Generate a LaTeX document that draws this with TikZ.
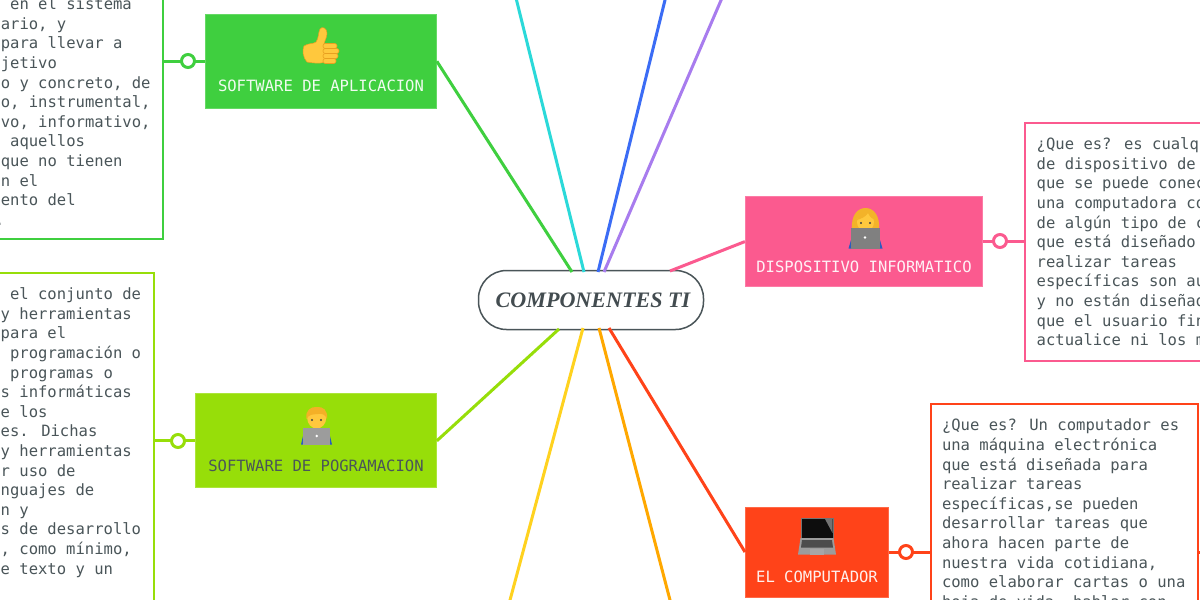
\documentclass[tikz,border=0pt]{standalone}
\usepackage{fontspec}
\newfontfamily\monof{DejaVu Sans Mono}
\newfontfamily\titlef{Liberation Serif}
\definecolor{cgreen}{HTML}{3FCF3F}
\definecolor{clime}{HTML}{97DE09}
\definecolor{cpink}{HTML}{FB5A8F}
\definecolor{cred}{HTML}{FF4319}
\definecolor{ccyan}{HTML}{2BD9D9}
\definecolor{cblue}{HTML}{3B6CF5}
\definecolor{cpurple}{HTML}{A87CEE}
\definecolor{corange}{HTML}{FFA800}
\definecolor{cyellow}{HTML}{FFD21F}
\definecolor{ctext}{HTML}{4A5559}
\definecolor{eskin}{HTML}{FFC83D}
\definecolor{eskind}{HTML}{E8A020}
\definecolor{ehair}{HTML}{F2B92E}
\definecolor{egrey}{HTML}{9C9C9C}
\definecolor{egreyd}{HTML}{808080}
\definecolor{eblue}{HTML}{2A5CC0}
\newcommand{\ind}{\hspace*{9.36pt}}
\newcommand{\mono}{\monof\fontsize{15.55}{19.6}\selectfont\spaceskip=9.36pt\relax}
\tikzset{
 conn/.style={line width=3pt},
 topic/.style={rectangle,inner sep=0pt,line width=1pt,anchor=center},
 notebox/.style={rectangle,draw=#1,line width=2pt,fill=white,inner xsep=12pt,inner ysep=15pt,align=flush left,font=\mono,text=ctext},
 ring/.style={circle,draw=#1,fill=white,line width=3pt,minimum size=13pt,inner sep=0pt},
 toplabel/.style={font=\mono,inner sep=0pt},
}
\begin{document}
\begin{tikzpicture}[x=1pt,y=-1pt]
\useasboundingbox (0,0) rectangle (1200,600);
\clip (0,0) rectangle (1200,600);
\fill[white] (0,0) rectangle (1200,600);
% free ends
\coordinate (ecyan) at (516,-2);
\coordinate (eblu) at (665.5,-2);
\coordinate (epurple) at (722,-2);
\coordinate (eorange) at (670.5,602);
\coordinate (eyellow) at (509.5,602);
\coordinate (cgr) at (572,272);
\coordinate (ccy) at (584,272);
\coordinate (cbl) at (598,272);
\coordinate (cpu) at (604,272);
\coordinate (cpi) at (670,271);
\coordinate (cre) at (609,328);
\coordinate (cor) at (599,328);
\coordinate (cye) at (583,328);
\coordinate (cli) at (559,329);
\coordinate (eout) at (1201,552);
% topic boxes
\node[topic,fill=cgreen,draw=cgreen!80!white,minimum width=231pt,minimum height=94pt] (apl) at (320.85,61.3) {};
\node[topic,fill=clime,draw=clime!80!white,minimum width=241pt,minimum height=94pt] (pro) at (315.85,440.8) {};
\node[topic,fill=cpink,draw=cpink!80!white,minimum width=237pt,minimum height=90pt] (dis) at (863.85,241.6) {};
\node[topic,fill=cred,draw=cred!80!white,minimum width=143pt,minimum height=90pt] (com) at (817,552) {};
% connector leaving the last note
\draw[conn,cred] (1195,552) -- (eout);
% notes
\node[notebox=cgreen,inner ysep=14pt,text width=150.5pt,anchor=south east] (n1) at (164.3,240.3) {\ind en el sistema\\ario, y\\para llevar a\\jetivo\\o y concreto, de\\o, instrumental,\\vo, informativo,\\\ind aquellos\\que no tienen\\n el\\ento del\\\hspace*{-6pt}.};
\node[notebox=clime,inner xsep=9pt,text width=144pt,anchor=north east] (n2) at (154.7,271.7) {\ind el conjunto de\\y herramientas\\para el\\\ind programación o\\\ind programas o\\s informáticas\\e los\\es. Dichas\\y herramientas\\r uso de\\nguajes de\\n y\\s de desarrollo\\, como mínimo,\\e texto y un\\~\\~\\~};
\node[notebox=cpink,inner ysep=13pt,text width=240pt,anchor=north west,minimum height=238.3pt] (n3) at (1023.7,121.7) {¿Que es? es cualqu\\de dispositivo de\\que se puede conec\\una computadora co\\de algún tipo de c\\que está diseñado\\realizar tareas\\específicas son au\\y no están diseñad\\que el usuario fin\\actualice ni los m};
\node[notebox=cred,inner xsep=11pt,text width=245pt,anchor=north west] (n4) at (930,403) {¿Que es? Un computador es\\una máquina electrónica\\que está diseñada para\\realizar tareas\\específicas,se pueden\\desarrollar tareas que\\ahora hacen parte de\\nuestra vida cotidiana,\\como elaborar cartas o una\\hoja de vida, hablar con\\~\\~};
% central
\node[rectangle,rounded corners=28pt,draw=ctext,line width=1.5pt,fill=white,minimum width=225pt,minimum height=59pt,inner sep=0pt,font=\titlef\bfseries\itshape\fontsize{22.1}{26}\selectfont,text=ctext!90!black] (cen) at (591,300) {\hspace*{4pt}COMPONENTES TI};
% connectors
\draw[conn,cgreen] (apl.east) -- (cgr);
\draw[conn,ccyan] (ecyan) -- (ccy);
\draw[conn,cblue] (eblu) -- (cbl);
\draw[conn,cpurple] (epurple) -- (cpu);
\draw[conn,cpink] (dis.west) -- (cpi);
\draw[conn,cred] (com.west) -- (cre);
\draw[conn,corange] (eorange) -- (cor);
\draw[conn,cyellow] (eyellow) -- (cye);
\draw[conn,clime] (pro.east) -- (cli);
% stubs
\draw[conn,cgreen] (apl.west) -- (n1.east |- apl.west);
\draw[conn,clime] (pro.west) -- (n2.east |- pro.west);
\draw[conn,cpink] (dis.east) -- (n3.west |- dis.east);
\draw[conn,cred] (com.east) -- (n4.west |- com.east);
\node[ring=cgreen] (r1) at (188,61) {};
\node[ring=clime] (r2) at (178,441) {};
\node[ring=cpink] (r3) at (1000,241) {};
\node[ring=cred] (r4) at (906,552) {};
% labels
\node[toplabel,text=white!92!cgreen] (l1) at (321,86) {SOFTWARE DE APLICACION};
\node[toplabel,text=ctext] (l2) at (316,466) {SOFTWARE DE POGRAMACION};
\node[toplabel,text=white!92!cpink] (l3) at (864,267) {DISPOSITIVO INFORMATICO};
\node[toplabel,text=white!92!cred] (l4) at (817,577) {EL COMPUTADOR};
% thumbs-up picture
\fill[eskin,draw=eskind,line width=.5pt,line join=round] (304,46) .. controls (308,43) and (314,44) .. (316,42)
  .. controls (319,38) and (318,33) .. (320,29) .. controls (322,26) and (327,28) .. (327,33)
  .. controls (327,37) and (325,40) .. (324,44) -- (326,62) .. controls (320,64) and (312,63) .. (307,62)
  .. controls (303,58) and (302,50) .. (304,46) -- cycle;
\foreach \yy/\xa in {43.5/337,48.5/339,53.5/338,58.5/336}{
  \fill[eskin,draw=eskind,line width=.6pt,rounded corners=2.2pt] (323,\yy) rectangle (\xa,\yy+5);
}
% man with laptop picture
\fill[eblue] (301,444.5) -- (303,436) -- (330,436) -- (332,444.5) -- cycle;
\fill[eskin] (316.7,418) ellipse (9.5pt and 10.5pt);
\fill[ehair!85!orange] (306.5,419) .. controls (305,410) and (311,406.5) .. (317,407) .. controls (323,406.5) and (328,410) .. (327,419)
  .. controls (325,414) and (322,413.5) .. (318,414) .. controls (313,414.5) and (309,414) .. (306.5,419) -- cycle;
\fill[black!75] (312,420) circle (1.1pt) (321,420) circle (1.1pt);
\fill[egrey] (303,427.7) rectangle (330,444.5);
\fill[white] (316.7,436) circle (1.4pt);
% woman with laptop picture
\fill[ehair!90!orange] (852,229) .. controls (851,216) and (857,208) .. (865.5,208) .. controls (874,208) and (880,216) .. (879,229) -- cycle;
\fill[eskin] (865.5,222) ellipse (8.5pt and 9.5pt);
\fill[ehair!90!orange] (857,220) .. controls (860,219) and (866,217) .. (868,213) .. controls (870,217) and (872,219) .. (875,220) -- (872,211) -- (860,211) -- cycle;
\fill[black!75] (861,223) circle (1.1pt) (870,223) circle (1.1pt);
\fill[eblue] (848.5,248.5) -- (851,240) -- (880,240) -- (882.5,248.5) -- cycle;
\fill[egreyd] (851,228) rectangle (880,248.5);
\fill[white] (865,237.5) circle (1.4pt);
% laptop picture
\fill[black!55] (800.5,518) rectangle (833.5,538.5);
\fill[black!95] (801.5,519) rectangle (832.5,538);
\fill[black!55] (825,519) -- (832.5,519) -- (832.5,533) -- cycle;
\fill[egrey] (800.5,538) -- (833.5,538) -- (836,554.5) -- (798,554.5) -- cycle;
\fill[black!70] (802,540) -- (832,540) -- (833,547.5) -- (801,547.5) -- cycle;
\fill[black!35] (810,548.5) rectangle (824,554.5);
\end{tikzpicture}
\end{document}
